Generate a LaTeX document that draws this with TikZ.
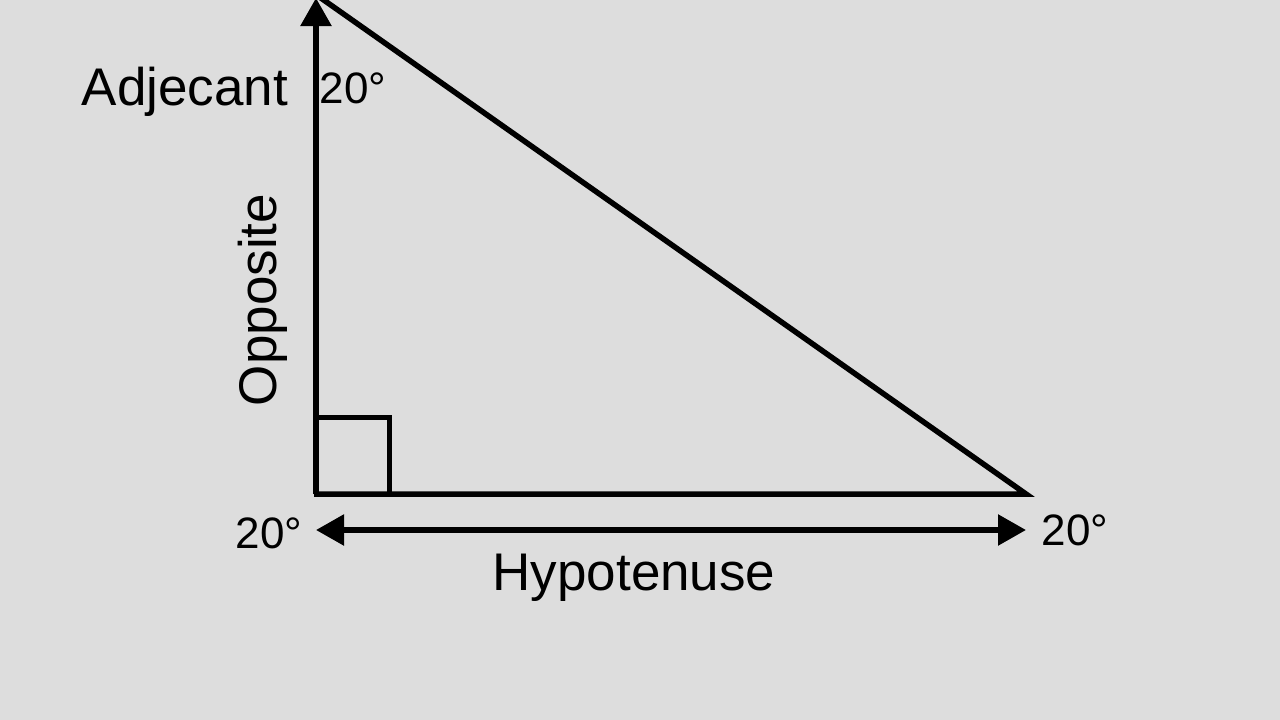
\documentclass[tikz,border=0pt]{standalone}
\usepackage{fontspec}
\setmainfont{Liberation Sans}
\usetikzlibrary{arrows.meta}
\definecolor{bg}{RGB}{221,221,221}
\begin{document}
\begin{tikzpicture}[x=1pt,y=-1pt,
  edge/.style={line width=5.5pt,line join=miter},
  arr/.style={line width=5.5pt,-{Triangle[length=28pt,width=30pt]}},
  word/.style={font=\fontsize{53}{53}\selectfont,inner sep=0pt},
  deg/.style={font=\fontsize{44}{44}\selectfont,inner sep=0pt}]
\fill[bg] (0,0) rectangle (1280,720);
\useasboundingbox (0,0) rectangle (1280,720);
\coordinate (BL) at (316,494);
\coordinate (BR) at (1026,494);
\coordinate (TP) at (316,-2);
\coordinate (HT) at (318,-4);
\coordinate (AL) at (316,530);
\coordinate (AR) at (1026,530);
\draw[edge] (HT) -- (BR) -- (BL);
\draw[arr] (BL) -- (TP);
\draw[line width=5pt] (316,417) rectangle (389,494);
\draw[arr,{Triangle[length=28pt,width=30pt]}-{Triangle[length=28pt,width=30pt]}] (AL) -- (AR);
\node[word] (adj) at (185,92) {Adjecant};
\node[deg] (a1) at (353,88) {20°};
\node[word,rotate=90] (opp) at (263,300) {Opposite};
\node[deg] (a2) at (269,533) {20°};
\node[deg] (a3) at (1075,530) {20°};
\node[word] (hyp) at (634,578) {Hypotenuse};
\end{tikzpicture}
\end{document}
